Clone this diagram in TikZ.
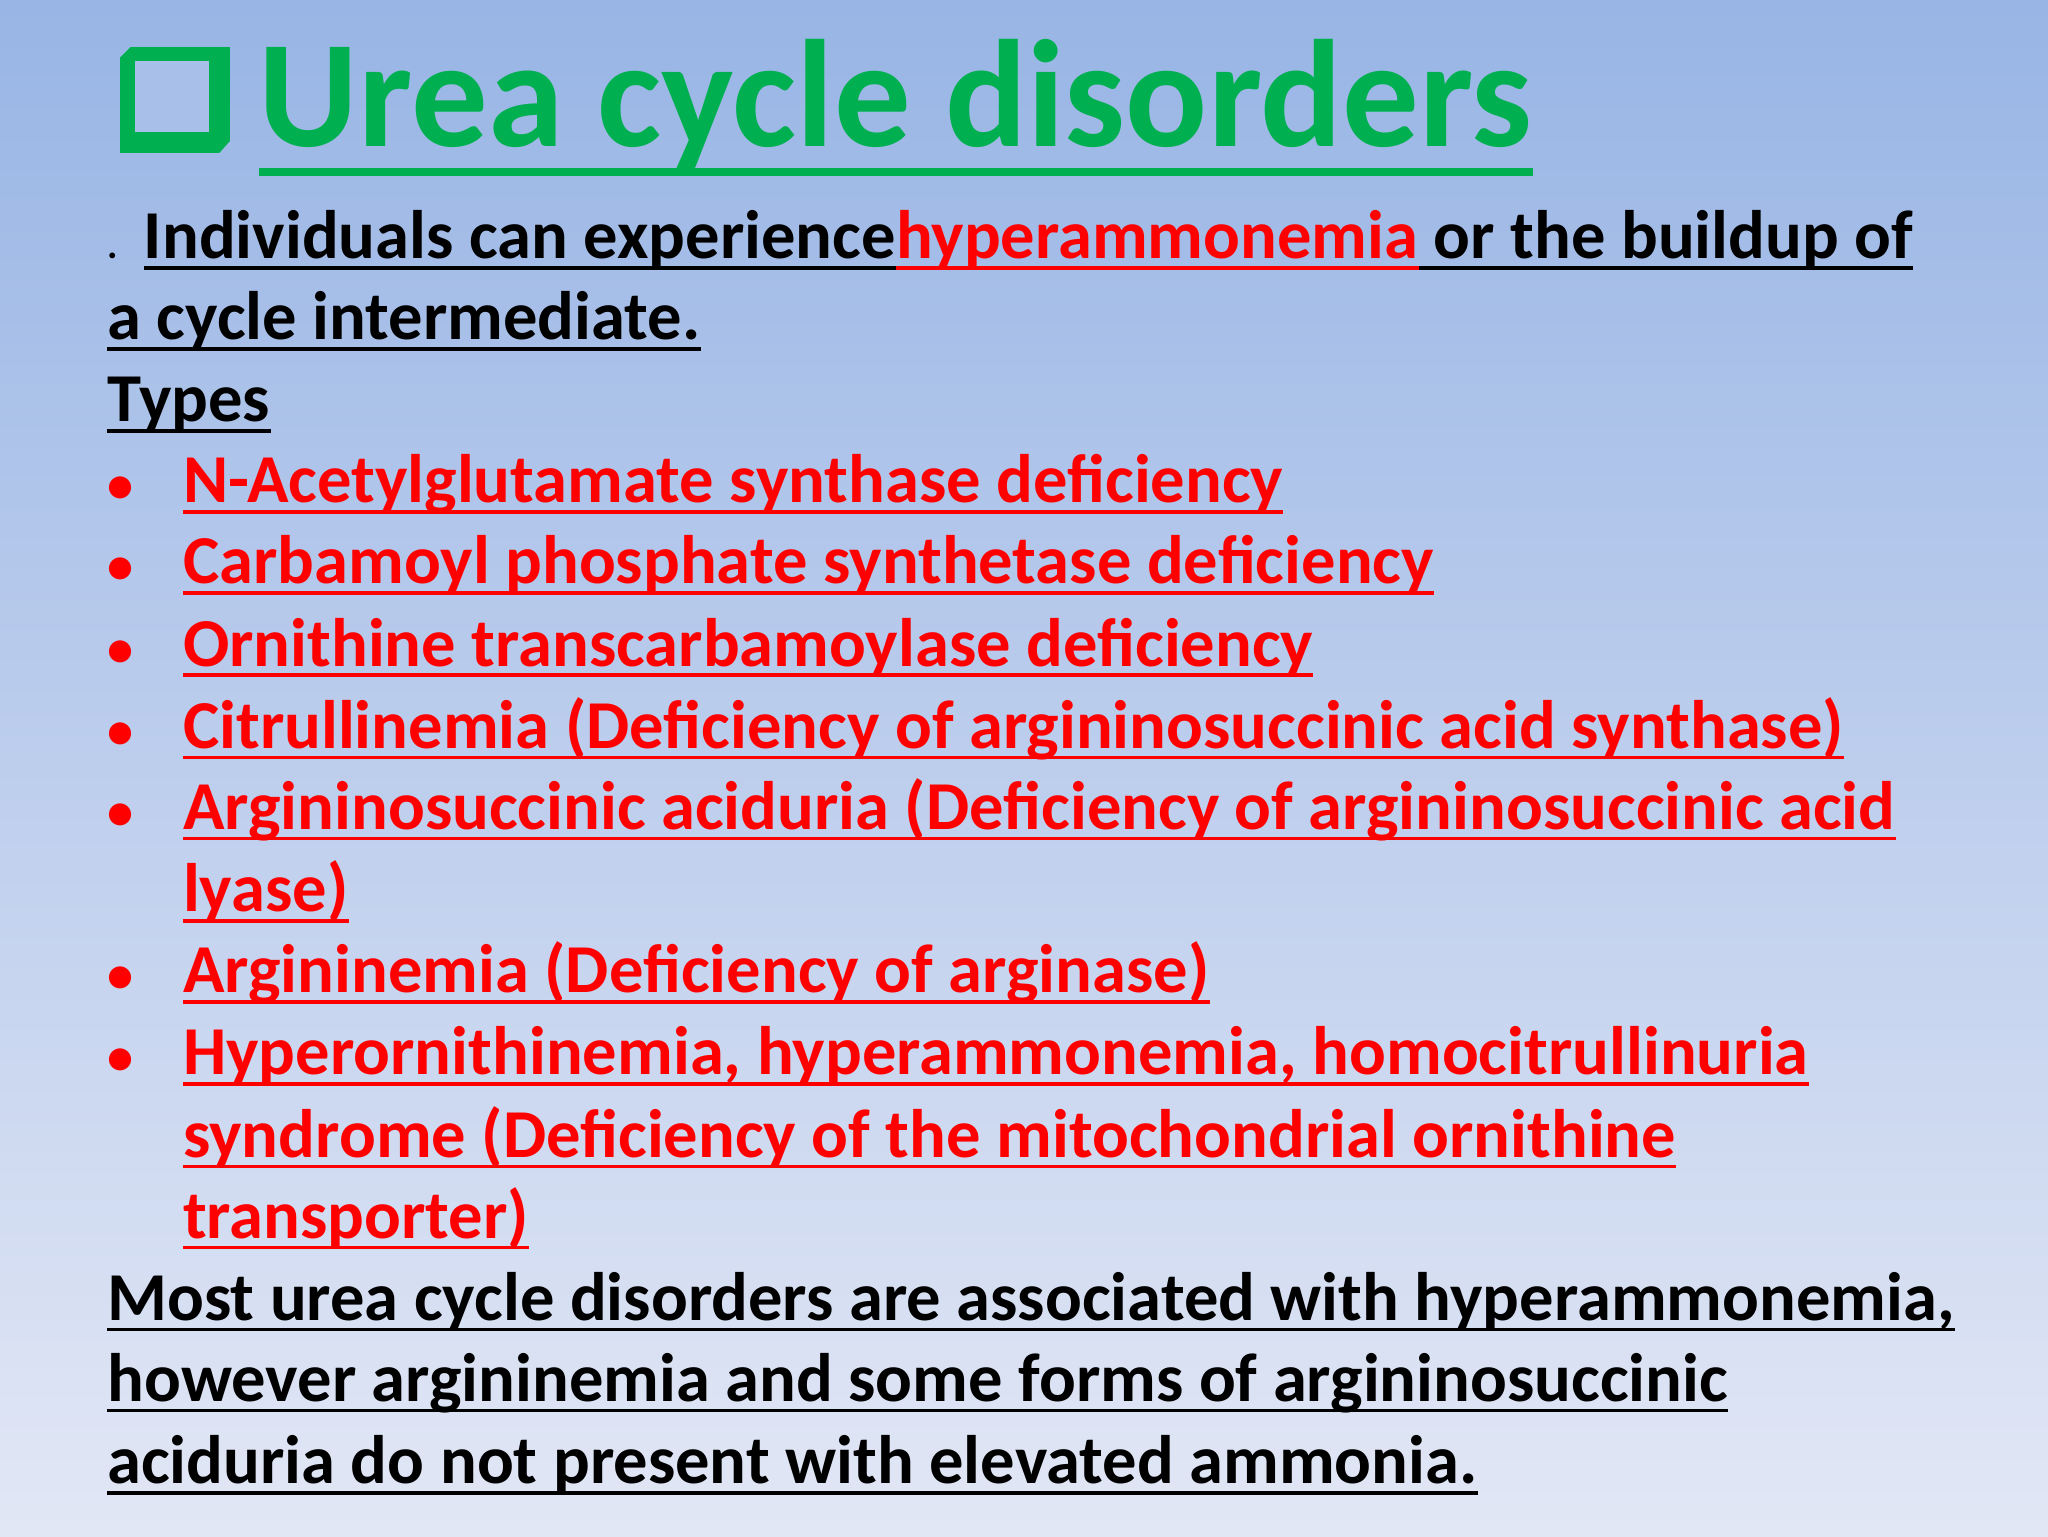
\documentclass[tikz,border=0pt]{standalone}
\usepackage{fontspec}
\setmainfont{Carlito}
\definecolor{bgtop}{RGB}{152,181,229}
\definecolor{bgbot}{RGB}{226,231,245}
\definecolor{ttl}{RGB}{0,176,80}
\definecolor{rd}{RGB}{255,0,0}
\tikzset{ln/.style={anchor=base west,inner sep=0pt,font=\fontsize{52.5}{56}\selectfont\bfseries},
 bl/.style={anchor=base west,inner sep=0pt,text=rd,font=\fontsize{52.5}{56}\selectfont\bfseries},
 ul/.style={line width=2.8pt}}
\newcommand{\ulnode}[2][black]{\draw[ul,#1] ([yshift=-7pt]#2.base west) -- ([yshift=-7pt]#2.base east);}
\begin{document}
\begin{tikzpicture}[x=1pt,y=1pt]
\useasboundingbox (0,0) rectangle (1568,-1176);
\shade[top color=bgtop,bottom color=bgbot] (0,0) rectangle (1568,-1176);
% checkbox
\fill[ttl] (92,-117) -- (92,-44) -- (100,-36) -- (176,-36) -- (176,-108) -- (168,-117) -- cycle;
\fill[bgtop!85!white] (103,-47) rectangle (160,-101);
\node[anchor=base west,inner sep=0pt,text=ttl,font=\fontsize{117}{120}\selectfont\bfseries] (title) at (198,-112) {Urea cycle disorders};
\draw[ttl,line width=6pt] ([yshift=-20pt]title.base west) -- ([yshift=-20pt]title.base east);
\node[ln] (l0) at (82,-198) {\fontsize{30}{30}\selectfont.};
\node[ln] (l1a) at (110,-198) {Individuals can experience\hspace{0.22em}};
\node[ln,text=rd] (l1b) at (l1a.base east) {hyperammonemia};
\node[ln] (l1c) at (l1b.base east) {\hspace{0.22em}or the buildup of};
\ulnode{l1a}\ulnode[rd]{l1b}\ulnode{l1c}
\node[ln] (l2) at (82,-260) {a cycle intermediate.};\ulnode{l2}
\node[ln] (l3) at (82,-323) {Types};\ulnode{l3}
\foreach \y/\t [count=\i] in {385/{N-Acetylglutamate synthase deficiency},447/{Carbamoyl phosphate synthetase deficiency},510/{Ornithine transcarbamoylase deficiency},573/{Citrullinemia (Deficiency of argininosuccinic acid synthase)},635/{Argininosuccinic aciduria (Deficiency of argininosuccinic acid},760/{Argininemia (Deficiency of arginase)},823/{Hyperornithinemia, hyperammonemia, homocitrullinuria}}{
 \node[bl] (b\i) at (82,-\y) {\fontsize{40}{40}\selectfont•};
 \node[bl] (t\i) at (140,-\y) {\t};
 \ulnode[rd]{t\i}
}
\node[bl] (t5b) at (140,-698) {lyase)};\ulnode[rd]{t5b}
\node[bl] (t7b) at (140,-886) {syndrome (Deficiency of the mitochondrial ornithine};\ulnode[rd]{t7b}
\node[bl] (t7c) at (140,-948) {transporter)};\ulnode[rd]{t7c}
\node[ln] (f1) at (82,-1011) {Most urea cycle disorders are associated with hyperammonemia,};\ulnode{f1}
\node[ln] (f2) at (82,-1073) {however argininemia and some forms of argininosuccinic};\ulnode{f2}
\node[ln] (f3) at (82,-1136) {aciduria do not present with elevated ammonia.};\ulnode{f3}
\end{tikzpicture}
\end{document}
